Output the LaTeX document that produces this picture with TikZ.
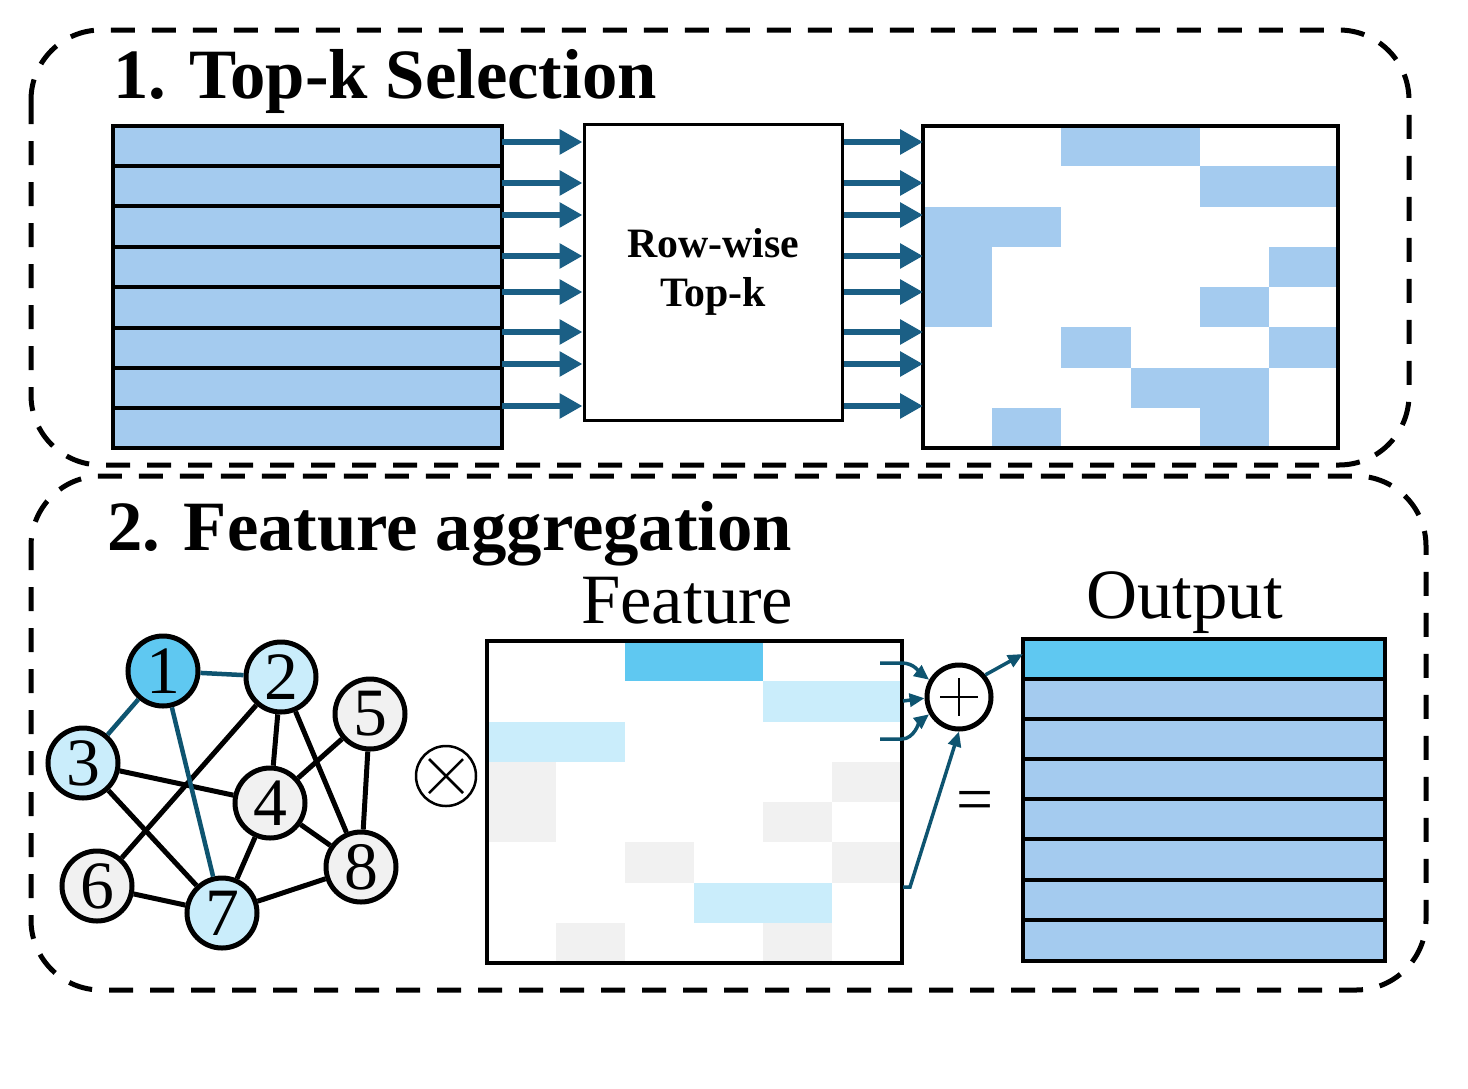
\documentclass[tikz,border=0pt]{standalone}
\usepackage{fontspec}
\setmainfont{Liberation Serif}
\usetikzlibrary{arrows.meta}

\definecolor{rowblue}{HTML}{A4CBEF}
\definecolor{selcyan}{HTML}{5FC8F1}
\definecolor{nbcyan}{HTML}{CAEDFB}
\definecolor{restgray}{HTML}{F1F1F1}
\definecolor{arrblue}{HTML}{1B5F85}
\definecolor{edgeteal}{HTML}{0E5470}

\tikzset{
  stagebox/.style={draw, dash pattern=on 24bp off 17bp, line width=5bp, rounded corners=70bp},
  mat/.style={draw, line width=4bp, anchor=north west, inner sep=0pt, outer sep=0pt},
  title/.style={anchor=base west, inner sep=0pt, font=\bfseries\fontsize{71}{71}\selectfont},
  gnode/.style={circle, draw, line width=5bp, minimum size=70bp, inner sep=0pt, font=\fontsize{68}{68}\selectfont},
  rowarr/.style={arrblue, line width=6bp, -{Triangle[length=23bp,width=24bp]}},
  aggarr/.style={edgeteal, line width=3.5bp, -{Triangle[length=15bp,width=13bp]}},
}

\begin{document}
\begin{tikzpicture}[x=1bp, y=-1bp]
  \useasboundingbox (0,0) rectangle (1468,1088);
  \fill[white] (0,0) rectangle (1468,1088);

  % the two stages
  \draw[stagebox] (31,30) rectangle (1409,465);
  \draw[stagebox] (31,476) rectangle (1426,990);
  \node[title] (t1) at (113,98) {1. Top-k Selection};
  \node[title] (t2) at (107,550) {2. Feature aggregation};

  % stage 1: scores -> row-wise top-k -> sparse mask
  \node[mat, fill=rowblue, minimum width=389bp, minimum height=322bp] (lmat) at (113,126) {};
  \foreach \y in {166,206,247,287,328,368,408}
    \draw[line width=3.5bp] (lmat.west |- 0,\y) -- (lmat.east |- 0,\y);

  \node[draw, line width=3bp, minimum width=258bp, minimum height=296bp, align=center,
        font=\bfseries\fontsize{42}{50}\selectfont] (topk) at (713,272) {Row-wise\\Top-k};

  \foreach \r/\c in {0/2,0/3,1/4,1/5,2/0,2/1,3/0,3/5,4/0,4/4,5/2,5/5,6/3,6/4,7/1,7/4}
    \fill[rowblue] ({923+69.2*\c},{126+40.25*\r}) rectangle ++(69.2,40.25);
  \node[mat, minimum width=415bp, minimum height=322bp] (rmat) at (923,126) {};

  \foreach \y in {142,183,215,256,292,332,364,406} {
    \draw[rowarr] (lmat.east |- 0,\y) -- (topk.west |- 0,\y);
    \draw[rowarr] (topk.east |- 0,\y) -- (rmat.west |- 0,\y);
  }

  % stage 2: graph
  \node[gnode, fill=selcyan]   (n1) at (163,671) {1};
  \node[gnode, fill=nbcyan]    (n2) at (281,677) {2};
  \node[gnode, fill=nbcyan]    (n3) at (83,763)  {3};
  \node[gnode, fill=restgray]  (n4) at (270,803) {4};
  \node[gnode, fill=restgray]  (n5) at (370,714) {5};
  \node[gnode, fill=restgray]  (n6) at (97,886)  {6};
  \node[gnode, fill=nbcyan]    (n7) at (222,913) {7};
  \node[gnode, fill=restgray]  (n8) at (361,867) {8};
  \foreach \a/\b in {n2/n6,n2/n4,n2/n8,n3/n4,n3/n7,n4/n5,n4/n7,n4/n8,n5/n8,n6/n7,n7/n8}
    \draw[line width=5bp] (\a) -- (\b);
  \foreach \b in {n2,n3,n7}
    \draw[edgeteal, line width=4.5bp] (n1) -- (\b);

  % times
  \node[circle, draw, line width=2.5bp, minimum size=60bp, inner sep=0pt] (times) at (446,776) {};
  \draw[line width=2.5bp] (times.center) ++(-17,-17) -- ++(34,34);
  \draw[line width=2.5bp] (times.center) ++(-17,17) -- ++(34,-34);

  % stage 2: feature matrix
  \node[font=\fontsize{71}{71}\selectfont, anchor=base west, inner sep=0pt] (flab) at (581,623) {Feature};
  \foreach \r/\c in {0/2,0/3}
    \fill[selcyan] ({487+69*\c},{641+40.25*\r}) rectangle ++(69,40.25);
  \foreach \r/\c in {1/4,1/5,2/0,2/1,6/3,6/4}
    \fill[nbcyan] ({487+69*\c},{641+40.25*\r}) rectangle ++(69,40.25);
  \foreach \r/\c in {3/0,3/5,4/0,4/4,5/2,5/5,7/1,7/4}
    \fill[restgray] ({487+69*\c},{641+40.25*\r}) rectangle ++(69,40.25);
  \node[mat, line width=3.5bp, minimum width=415bp, minimum height=322bp] (fmat) at (487,641) {};

  % sum
  \node[circle, draw, line width=5bp, minimum size=64bp, inner sep=0pt] (plus) at (959,697) {};
  \draw[line width=2.5bp] (plus.center) ++(-19,0) -- ++(38,0);
  \draw[line width=2.5bp] (plus.center) ++(0,-19) -- ++(0,38);
  \node[font=\fontsize{66}{66}\selectfont] (eq) at (975,806) {=};

  % output
  \node[font=\fontsize{71}{71}\selectfont, anchor=base west, inner sep=0pt] (olab) at (1086,618) {Output};
  \node[mat, fill=rowblue, minimum width=362bp, minimum height=322bp] (omat) at (1023,639) {};
  \fill[selcyan] (1025,641) rectangle (1383,679);
  \draw[line width=4bp] (omat.north west) rectangle (omat.south east);
  \foreach \y in {679,719,759,799,839,880,920}
    \draw[line width=3.5bp] (omat.west |- 0,\y) -- (omat.east |- 0,\y);

  % aggregation arrows
  \coordinate (f1) at (880,663);
  \coordinate (f2) at (903,701);
  \coordinate (f3) at (880,739);
  \coordinate (f4) at (903,887);
  \draw[aggarr] (f1) -- ++(22,0) .. controls +(12,0) and +(-9,-7) .. (plus.150);
  \draw[aggarr] (f2) -- (plus.182);
  \draw[aggarr] (f3) -- ++(22,0) .. controls +(12,0) and +(-9,7) .. (plus.210);
  \draw[aggarr] (f4) -- ++(7,0) -- (plus.south);
  \draw[aggarr] (plus.40) -- ([yshift=-15bp]omat.north west);
\end{tikzpicture}
\end{document}
